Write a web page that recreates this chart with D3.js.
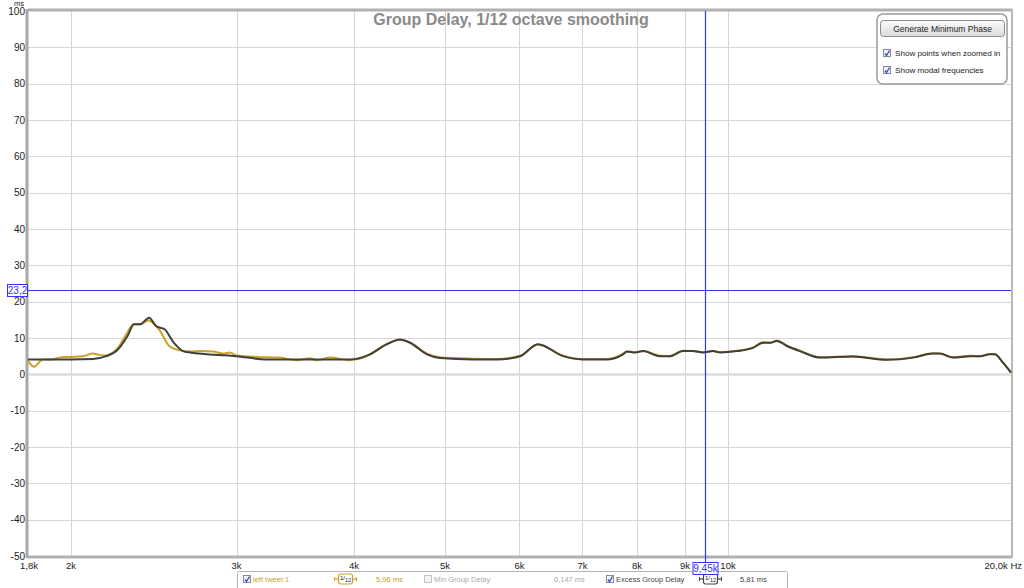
<!DOCTYPE html>
<html>
<head>
<meta charset="utf-8">
<script src="https://cdn.jsdelivr.net/npm/d3@7"></script>
<style>
  body { margin: 0; background: #fff; }
  svg { display: block; font-family: "Liberation Sans", Arial, sans-serif; }
</style>
</head>
<body>
<svg id="chart" width="1024" height="588"></svg>
<script>
"use strict";

// Excess Group Delay (dark line)
var excessFreq = [1800, 2000, 2110, 2180, 2235, 2296, 2334, 2370, 2422, 2462, 2515, 2571, 2632, 2677,
  3000, 3230, 3960, 4160, 4338, 4477, 4588, 4783, 4936, 5357, 5679, 6010, 6277, 6678, 7000, 7424,
  7731, 7807, 7963, 8122, 8463, 8674, 8955, 9177, 9405, 9639, 9806, 10224, 10631, 10894, 11083,
  11273, 11552, 11927, 12527, 13581, 14760, 15730, 16525, 16807, 17351, 18087, 18538, 18996, 19226,
  19608, 20000];
var excessMs = [4.1, 4.1, 4.2, 5.0, 6.4, 10.5, 13.8, 13.8, 15.6, 13.3, 12.4, 8.8, 6.4, 6.0,
  5.0, 4.1, 4.1, 5.5, 8.3, 9.6, 8.7, 5.5, 4.5, 4.1, 4.1, 5.0, 8.3, 5.0, 4.1, 4.1,
  5.5, 6.3, 6.0, 6.4, 5.0, 5.0, 6.4, 6.4, 6.0, 6.4, 6.0, 6.4, 7.3, 8.7, 8.7,
  9.2, 7.8, 6.4, 4.6, 4.9, 4.0, 4.6, 5.7, 5.7, 4.6, 5.0, 5.0, 5.5, 5.5,
  3.2, 0.5];

// left tweet 1 (gold line)
var tweetFreq = [1800, 1826, 1867, 1909, 1942, 1989, 2060, 2110, 2142, 2178, 2216, 2250, 2296, 2330,
  2370, 2415, 2481, 2544, 2590, 2677, 2743, 2831, 2902, 2952, 3000, 3153, 3335, 3477, 3591, 3652,
  3771, 3960, 4109, 4338, 4477, 4588, 4783, 4936, 5357, 5679, 6010, 6277, 6678, 7000, 7424,
  7731, 7807, 7963, 8122, 8463, 8674, 8955, 9177, 9405, 9639, 9806, 10224, 10631, 10894, 11083,
  11273, 11552, 11927, 12527, 13581, 14760, 15730, 16525, 16807, 17351, 18087, 18538, 18996, 19226,
  19608, 20000];
var tweetMs = [3.7, 2.1, 4.1, 4.1, 4.6, 4.8, 5.0, 5.7, 5.4, 5.2, 6.0, 7.8, 11.5, 13.8,
  13.8, 14.8, 12.4, 7.8, 6.8, 6.3, 6.4, 6.3, 5.7, 6.0, 5.2, 4.8, 4.6, 3.9, 4.4, 3.9,
  4.6, 3.9, 4.8, 8.4, 9.5, 8.8, 5.7, 4.7, 4.3, 4.2, 5.1, 8.2, 5.1, 4.2, 4.2,
  5.6, 6.3, 6.1, 6.4, 5.1, 5.0, 6.5, 6.4, 6.1, 6.4, 6.1, 6.5, 7.4, 8.8, 8.7,
  9.3, 7.9, 6.5, 4.7, 5.0, 4.1, 4.7, 5.8, 5.7, 4.7, 5.1, 5.0, 5.6, 5.5,
  3.3, 0.5];

var xGridFreqs = [2000, 3000, 4000, 5000, 6000, 7000, 8000, 9000, 10000];
var xTickFreqs = [1800, 2000, 3000, 4000, 5000, 6000, 7000, 8000, 9000, 10000];
var xTickLabels = ["1,8k", "2k", "3k", "4k", "5k", "6k", "7k", "8k", "9k", "10k"];
var yTicks = [100, 90, 80, 70, 60, 50, 40, 30, 20, 10, 0, -10, -20, -30, -40, -50];

var cursorFreq = 9450, cursorFreqLabel = "9,45k";
var cursorMs = 23.2, cursorMsLabel = "23,2";

var legendItems = [
  { name: "left tweet 1", checked: true, color: "#c9a227", value: "5,96 ms", smooth: true },
  { name: "Min Group Delay", checked: false, color: "#aaaaaa", value: "0,147 ms", smooth: false },
  { name: "Excess Group Delay", checked: true, color: "#444444", value: "5,81 ms", smooth: true }
];

var svg = d3.select("#chart");
var L = 28, R = 1011, T = 11, B = 556;

var x = d3.scaleLog().domain([1800, 20000]).range([L, R]);
var y = d3.scaleLinear().domain([-50, 100]).range([B, T]);

// grid
var grid = svg.append("g");
grid.selectAll(".vg").data(xGridFreqs).enter().append("line")
  .attr("x1", d => Math.round(x(d)) + 0.5).attr("x2", d => Math.round(x(d)) + 0.5)
  .attr("y1", T).attr("y2", B)
  .attr("stroke", "#d6d6d6").attr("stroke-width", 1);
grid.selectAll(".hg").data(yTicks.filter(d => d > -50 && d < 100)).enter().append("line")
  .attr("x1", L).attr("x2", R)
  .attr("y1", d => Math.round(y(d)) + 0.5).attr("y2", d => Math.round(y(d)) + 0.5)
  .attr("stroke", d => d === 0 ? "#dcdcdc" : "#d6d6d6")
  .attr("stroke-width", d => d === 0 ? 2.5 : 1);

// frame
svg.append("line").attr("x1", L).attr("x2", R + 1).attr("y1", T - 1).attr("y2", T - 1)
  .attr("stroke", "#b0b0b0").attr("stroke-width", 3);
svg.append("line").attr("x1", L).attr("x2", R + 1).attr("y1", B + 1).attr("y2", B + 1)
  .attr("stroke", "#b0b0b0").attr("stroke-width", 3);
svg.append("line").attr("x1", L - 1).attr("x2", L - 1).attr("y1", T - 2).attr("y2", B + 2)
  .attr("stroke", "#a8a8a8").attr("stroke-width", 3);
svg.append("line").attr("x1", R + 1).attr("x2", R + 1).attr("y1", T - 2).attr("y2", B + 2)
  .attr("stroke", "#b8b8b8").attr("stroke-width", 2);

// y labels
svg.append("g").selectAll("text").data(yTicks).enter().append("text")
  .attr("x", 25).attr("y", d => y(d) + 3.5)
  .attr("text-anchor", "end").attr("font-size", 10).attr("fill", "#222")
  .text(d => d);
svg.append("text").attr("x", 24).attr("y", 5.5).attr("text-anchor", "end")
  .attr("font-size", 7.5).attr("fill", "#222").text("ms");

// x labels
svg.append("g").selectAll("text").data(xTickFreqs).enter().append("text")
  .attr("x", (d, i) => i === 0 ? x(d) + 1 : x(d)).attr("y", 569)
  .attr("text-anchor", "middle").attr("font-size", 9.5).attr("fill", "#222")
  .text((d, i) => xTickLabels[i]);
svg.append("text").attr("x", 1022).attr("y", 569).attr("text-anchor", "end")
  .attr("font-size", 9.5).attr("fill", "#222").text("20,0k Hz");

// curves
var line = d3.line().curve(d3.curveMonotoneX);
var tweetPts = tweetFreq.map((f, i) => [x(f), y(tweetMs[i])]);
var excessPts = excessFreq.map((f, i) => [x(f), y(excessMs[i])]);
svg.append("path").attr("d", line(tweetPts)).attr("fill", "none")
  .attr("stroke", "#c9a227").attr("stroke-width", 2).attr("stroke-linejoin", "round");
svg.append("path").attr("d", line(excessPts)).attr("fill", "none")
  .attr("stroke", "#3f3f3c").attr("stroke-width", 2).attr("stroke-linejoin", "round");

// title
svg.append("text").attr("x", 511).attr("y", 25).attr("text-anchor", "middle")
  .attr("font-size", 16).attr("font-weight", "bold").attr("fill", "#8a8a8a")
  .text("Group Delay, 1/12 octave smoothing");

// checkbox helper
function checkbox(g, cx0, cy0, checked, enabled) {
  g.append("rect").attr("x", cx0 + 0.5).attr("y", cy0 + 0.5).attr("width", 7).attr("height", 7)
    .attr("fill", enabled ? "#f4f4f8" : "#f2f2f2").attr("stroke", enabled ? "#8a8a9a" : "#c4c4c4");
  if (checked) {
    g.append("path").attr("d", "M" + (cx0 + 2) + "," + (cy0 + 4.5) + " l1.5,2 l3,-5")
      .attr("fill", "none").attr("stroke", "#2a50c8").attr("stroke-width", 1.3);
  }
}

// options panel
var panel = svg.append("g");
panel.append("rect").attr("x", 877).attr("y", 14).attr("width", 130).attr("height", 70)
  .attr("rx", 6).attr("fill", "#fff").attr("stroke", "#9a9a9a").attr("stroke-width", 1.5);
var grad = svg.append("defs").append("linearGradient").attr("id", "btn")
  .attr("x1", 0).attr("x2", 0).attr("y1", 0).attr("y2", 1);
grad.append("stop").attr("offset", "0%").attr("stop-color", "#fbfbfb");
grad.append("stop").attr("offset", "100%").attr("stop-color", "#dcdcdc");
panel.append("rect").attr("x", 880.5).attr("y", 20.5).attr("width", 124).attr("height", 16)
  .attr("rx", 3).attr("fill", "url(#btn)").attr("stroke", "#8c8c8c");
panel.append("text").attr("x", 942.5).attr("y", 31.5).attr("text-anchor", "middle")
  .attr("font-size", 8.5).attr("fill", "#222").text("Generate Minimum Phase");
checkbox(panel, 883, 49, true, true);
panel.append("text").attr("x", 895).attr("y", 56).attr("font-size", 8.1).attr("fill", "#222")
  .text("Show points when zoomed in");
checkbox(panel, 883, 66, true, true);
panel.append("text").attr("x", 895).attr("y", 73).attr("font-size", 8.1).attr("fill", "#222")
  .text("Show modal frequencies");

// bottom legend
var leg = svg.append("g");
leg.append("rect").attr("x", 237.5).attr("y", 571.5).attr("width", 550).attr("height", 20)
  .attr("rx", 2).attr("fill", "#fff").attr("stroke", "#b4b4b4");
var itemX = [243, 424, 606];
var symX = [334, -1, 699];
var valX = [376, 554, 740];
legendItems.forEach(function (it, i) {
  checkbox(leg, itemX[i], 575, it.checked, it.checked);
  leg.append("text").attr("x", itemX[i] + 10).attr("y", 582).attr("font-size", 7.5)
    .attr("fill", it.color).text(it.name);
  if (it.smooth) {
    var s = leg.append("g").attr("transform", "translate(" + symX[i] + ",579)");
    s.append("line").attr("x1", 0).attr("x2", 23).attr("y1", 0).attr("y2", 0)
      .attr("stroke", it.color).attr("stroke-width", 1.2);
    s.append("line").attr("x1", 0.5).attr("x2", 0.5).attr("y1", -2).attr("y2", 2).attr("stroke", it.color);
    s.append("line").attr("x1", 22.5).attr("x2", 22.5).attr("y1", -2).attr("y2", 2).attr("stroke", it.color);
    s.append("rect").attr("x", 4.5).attr("y", -5).attr("width", 14).attr("height", 10).attr("rx", 2)
      .attr("fill", "#fff").attr("stroke", it.color).attr("stroke-width", 1.2);
    var t = s.append("text").attr("x", 11.5).attr("y", 3).attr("text-anchor", "middle")
      .attr("font-size", 6).attr("fill", "#222");
    t.append("tspan").attr("dy", -2).text("1");
    t.append("tspan").attr("dy", 0).text("/");
    t.append("tspan").attr("dy", 2).attr("font-size", 5.5).text("12");
  }
  leg.append("text").attr("x", valX[i]).attr("y", 582).attr("font-size", 7.5)
    .attr("fill", it.color).text(it.value);
});

// cursor (drawn last, on top)
var blue = "#3434ff";
var cx = Math.round(x(cursorFreq)) + 0.5, cy = Math.round(y(cursorMs)) + 0.5;
svg.append("line").attr("x1", L).attr("x2", R).attr("y1", cy).attr("y2", cy)
  .attr("stroke", blue).attr("stroke-width", 1);
svg.append("line").attr("x1", cx).attr("x2", cx).attr("y1", T).attr("y2", 563)
  .attr("stroke", blue).attr("stroke-width", 1.2);
svg.append("rect").attr("x", 7.5).attr("y", cy - 6).attr("width", 20).attr("height", 12)
  .attr("fill", "#fff").attr("stroke", blue);
svg.append("text").attr("x", 17.5).attr("y", cy + 3.5).attr("text-anchor", "middle")
  .attr("font-size", 10).attr("fill", blue).text(cursorMsLabel);
svg.append("rect").attr("x", cx - 12.5).attr("y", 562.5).attr("width", 25).attr("height", 12)
  .attr("fill", "#fff").attr("stroke", blue);
svg.append("text").attr("x", cx).attr("y", 572).attr("text-anchor", "middle")
  .attr("font-size", 10).attr("fill", blue).text(cursorFreqLabel);
</script>
</body>
</html>
